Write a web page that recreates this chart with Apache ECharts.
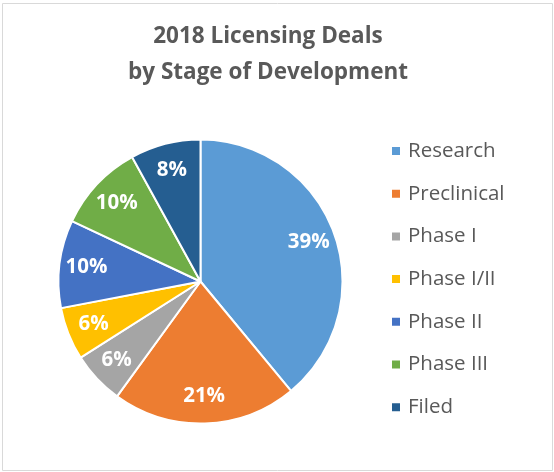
<!DOCTYPE html>
<html><head><meta charset="utf-8">
<script src="https://cdn.jsdelivr.net/npm/echarts@6/dist/echarts.min.js"></script>
<style>html,body{margin:0;padding:0;background:#fff}#c{width:554px;height:472px}</style>
</head><body><div id="c"></div>
<script>
const categories = ['Research','Preclinical','Phase I','Phase I/II','Phase II','Phase III','Filed'];
const values = [39,21,6,6,10,10,8];
const colors = ['#5B9BD5','#ED7D31','#A5A5A5','#FFC000','#4472C4','#70AD47','#255E91'];
const titleLines = ['2018 Licensing Deals','by Stage of Development'];

const data = categories.map((n,i)=>({name:n,value:values[i],itemStyle:{color:colors[i]}}));
const chart = echarts.init(document.getElementById('c'));
const font = 'Open Sans';
chart.setOption({
  animation:false,
  graphic:[{type:'rect',shape:{x:2.5,y:3.5,width:550,height:467},style:{fill:'none',stroke:'#D9D9D9',lineWidth:1},silent:true}],
  title:{text:titleLines.join('\n'),left:263,textAlign:'center',top:14,
    textStyle:{fontFamily:font,fontWeight:'bold',fontSize:22.5,lineHeight:36,color:'#595959'}},
  legend:{orient:'vertical',left:385,top:134,itemWidth:10,itemHeight:10,itemGap:18.7,
    icon:'rect',data:categories,
    textStyle:{fontFamily:font,fontSize:20.5,lineHeight:24,color:'#595959',padding:[0,0,0,2]}},
  series:[
    {type:'pie',center:[200.5,281.5],radius:[0,142],startAngle:90,clockwise:true,
     data:data,label:{show:false},labelLine:{show:false},
     itemStyle:{borderColor:'#fff',borderWidth:2},silent:true},
    {type:'pie',center:[200.5,281.5],radius:[82,142],startAngle:90,clockwise:true,
     data:categories.map((n,i)=>({name:n,value:values[i]})),
     itemStyle:{color:'rgba(0,0,0,0)',borderWidth:0},silent:true,legendHoverLink:false,
     label:{show:true,position:'inside',formatter:p=>p.value+'%',
       fontFamily:font,fontWeight:'bold',fontSize:20.5,color:'#fff'},
     labelLine:{show:false}}
  ]
});
</script></body></html>
